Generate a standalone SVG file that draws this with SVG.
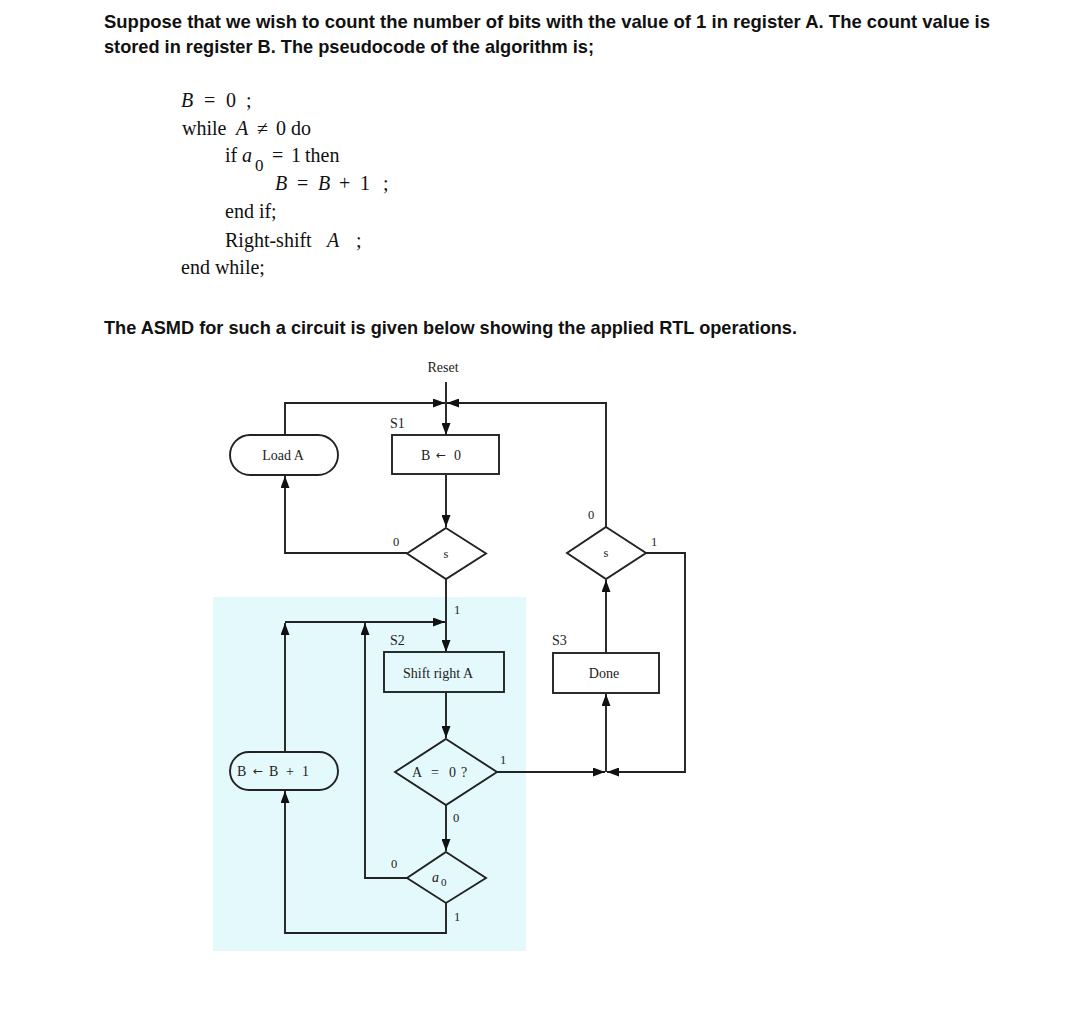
<svg xmlns="http://www.w3.org/2000/svg" width="1080" height="1009" viewBox="0 0 1080 1009">
<style>
.hd{font-family:"Liberation Sans",Arial,sans-serif;font-weight:bold;font-size:19px;fill:#111}
.pc{font-family:"Liberation Serif","Times New Roman",serif;font-size:20px;fill:#111}
.it{font-style:italic}
.lb{font-family:"Liberation Serif","Times New Roman",serif;font-size:14px;fill:#222}
.sm{font-family:"Liberation Serif","Times New Roman",serif;font-size:12.5px;fill:#222}
.ar{font-family:"DejaVu Sans",sans-serif;font-size:12px}
.nd{fill:none;stroke:#222;stroke-width:1.9}
.cn{fill:none;stroke:#222;stroke-width:1.9;marker-end:url(#ah)}
</style>
<defs>
<marker id="ah" markerUnits="userSpaceOnUse" markerWidth="12" markerHeight="9" refX="12" refY="4.5" orient="auto">
<path d="M0,0 L12,4.5 L0,9 z" fill="#111"/>
</marker>
</defs>
<rect width="1080" height="1009" fill="#ffffff"/>
<g id="intro">
<text class="hd" x="104" y="28" textLength="886" lengthAdjust="spacingAndGlyphs">Suppose that we wish to count the number of bits with the value of 1 in register A. The count value is</text>
<text class="hd" x="104" y="53" textLength="490" lengthAdjust="spacingAndGlyphs">stored in register B. The pseudocode of the algorithm is;</text>
</g>
<g id="pseudocode">
<text class="pc"><tspan class="it" x="181" y="107">B</tspan><tspan x="204" y="107">=</tspan><tspan x="226" y="107">0</tspan><tspan x="246" y="107">;</tspan></text>
<text class="pc"><tspan x="182" y="135">while</tspan><tspan class="it" x="236" y="135">A</tspan><tspan x="257" y="135">≠</tspan><tspan x="276" y="135">0</tspan><tspan x="291" y="135">do</tspan></text>
<text class="pc"><tspan x="225" y="162">if</tspan><tspan class="it" x="242" y="162">a</tspan><tspan x="255" y="171" font-size="17">0</tspan><tspan x="272" y="162">=</tspan><tspan x="291" y="162">1</tspan><tspan x="305" y="162">then</tspan></text>
<text class="pc"><tspan class="it" x="275" y="190">B</tspan><tspan x="297" y="190">=</tspan><tspan class="it" x="318" y="190">B</tspan><tspan x="339" y="190">+</tspan><tspan x="360" y="190">1</tspan><tspan x="383" y="190">;</tspan></text>
<text class="pc" x="225" y="218">end if;</text>
<text class="pc"><tspan x="225" y="247">Right-shift</tspan><tspan class="it" x="327" y="247">A</tspan><tspan x="356" y="247">;</tspan></text>
<text class="pc" x="181" y="274">end while;</text>
</g>
<g id="caption">
<text class="hd" x="104" y="334" textLength="693" lengthAdjust="spacingAndGlyphs">The ASMD for such a circuit is given below showing the applied RTL operations.</text>
</g>
<rect id="highlight" x="213" y="597" width="313" height="354" fill="#e3f9fc"/>
<g id="connectors">
<path class="cn" d="M446,382 V435"/>
<path class="cn" d="M285,435 V403 H445"/>
<path class="cn" d="M606,527 V403 H447"/>
<path class="cn" d="M407,553 H285 V476"/>
<path class="cn" d="M446,475 V527"/>
<path class="cn" d="M446,579 V652"/>
<path class="cn" d="M285,752 V623"/>
<path class="cn" d="M285,622 H445"/>
<path class="cn" d="M407,878 H365 V623"/>
<path class="cn" d="M446,692 V738"/>
<path class="cn" d="M497,772 H605"/>
<path class="cn" d="M446,805 V851"/>
<path class="cn" d="M446,903 V933 H285 V791"/>
<path class="cn" d="M646,553 H685 V772 H607"/>
<path class="cn" d="M606,772 V694"/>
<path class="cn" d="M606,653 V580"/>
</g>
<g id="labels">
<text class="lb" x="443" y="372" text-anchor="middle" font-size="13">Reset</text>
<text class="lb" x="390" y="428">S1</text>
<text class="lb" x="390" y="645">S2</text>
<text class="lb" x="552" y="645">S3</text>
<text class="sm" x="393" y="546">0</text>
<text class="sm" x="588" y="519">0</text>
<text class="sm" x="651" y="546">1</text>
<text class="sm" x="454" y="614">1</text>
<text class="sm" x="500" y="764">1</text>
<text class="sm" x="453" y="822">0</text>
<text class="sm" x="391" y="868">0</text>
<text class="sm" x="454" y="921">1</text>
</g>
<g id="load-a">
<rect class="nd" x="230" y="435" width="108" height="40" rx="20"/>
<text class="lb" x="283" y="460" text-anchor="middle">Load A</text>
</g>
<g id="b-zero">
<rect class="nd" x="392" y="435" width="107" height="39"/>
<text class="lb"><tspan x="421" y="460">B</tspan><tspan class="ar" x="436" y="459">←</tspan><tspan x="454" y="460">0</tspan></text>
</g>
<g id="s1-decision">
<polygon class="nd" points="446,528 486,553.5 446,579 407,553.5"/>
<text class="sm" x="446" y="558" text-anchor="middle" font-size="11">s</text>
</g>
<g id="s3-decision">
<polygon class="nd" points="606,527 646,553 606,579 567,553"/>
<text class="sm" x="606" y="557" text-anchor="middle" font-size="11">s</text>
</g>
<g id="shift-right">
<rect class="nd" x="384" y="652" width="120" height="40"/>
<text class="lb" x="438" y="678" text-anchor="middle">Shift right A</text>
</g>
<g id="done">
<rect class="nd" x="553" y="653" width="106" height="40"/>
<text class="lb" x="604" y="678" text-anchor="middle">Done</text>
</g>
<g id="a-zero-decision">
<polygon class="nd" points="446,739 497,772 446,805 395,772"/>
<text class="lb"><tspan x="412" y="777">A</tspan><tspan x="431" y="777">=</tspan><tspan x="449" y="777">0</tspan><tspan x="461" y="777">?</tspan></text>
</g>
<g id="b-plus-one">
<rect class="nd" x="230" y="752" width="108" height="38" rx="19"/>
<text class="lb"><tspan x="237" y="776">B</tspan><tspan class="ar" x="253" y="775">←</tspan><tspan x="269" y="776">B</tspan><tspan x="286" y="776">+</tspan><tspan x="302" y="776">1</tspan></text>
</g>
<g id="a0-decision">
<polygon class="nd" points="446,852 486,878 446,903 407,878"/>
<text class="lb"><tspan class="it" x="432" y="882">a</tspan><tspan x="441" y="886" font-size="11">0</tspan></text>
</g>
</svg>
